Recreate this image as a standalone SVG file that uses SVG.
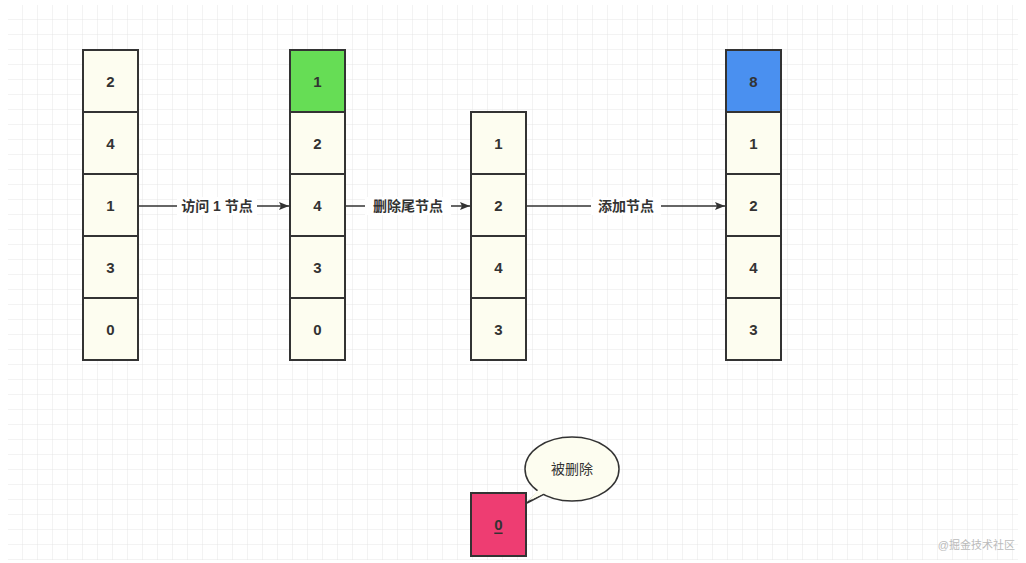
<svg xmlns="http://www.w3.org/2000/svg" width="1026" height="563" viewBox="0 0 1026 563">
<defs>
<pattern id="g" width="15" height="15" patternUnits="userSpaceOnUse" x="8" y="5"><path d="M15 0V15H0" fill="none" stroke="#e6e6e6" stroke-width="1"/></pattern>
<marker id="a" markerWidth="10" markerHeight="8" refX="10" refY="4" orient="auto" markerUnits="userSpaceOnUse"><path d="M0 0L10 4L0 8L2 4Z" fill="#333"/></marker>
<style>
.c{fill:#fdfdf0;stroke:#333;stroke-width:2}
.t{font-family:"Liberation Sans","Noto Sans CJK SC",sans-serif;font-size:15px;font-weight:bold;fill:#333;text-anchor:middle;dominant-baseline:central}
.l{font-family:"Liberation Sans","Noto Sans CJK SC",sans-serif;font-size:14px;font-weight:bold;fill:#333;text-anchor:middle;dominant-baseline:central}
.e{stroke:#333;stroke-width:1.5;fill:none;marker-end:url(#a)}
</style>
</defs>
<rect width="1026" height="563" fill="#fff"/>
<rect x="8" y="5" width="1010" height="555" fill="url(#g)"/>
<g id="col1">
<rect class="c" x="83" y="50" width="55" height="62"/><text class="t" x="110.5" y="81">2</text>
<rect class="c" x="83" y="112" width="55" height="62"/><text class="t" x="110.5" y="143">4</text>
<rect class="c" x="83" y="174" width="55" height="62"/><text class="t" x="110.5" y="205">1</text>
<rect class="c" x="83" y="236" width="55" height="62"/><text class="t" x="110.5" y="267">3</text>
<rect class="c" x="83" y="298" width="55" height="62"/><text class="t" x="110.5" y="329">0</text>
</g>
<g id="col2">
<rect class="c" x="290" y="50" width="55" height="62" style="fill:#66dd55"/><text class="t" x="317.5" y="81">1</text>
<rect class="c" x="290" y="112" width="55" height="62"/><text class="t" x="317.5" y="143">2</text>
<rect class="c" x="290" y="174" width="55" height="62"/><text class="t" x="317.5" y="205">4</text>
<rect class="c" x="290" y="236" width="55" height="62"/><text class="t" x="317.5" y="267">3</text>
<rect class="c" x="290" y="298" width="55" height="62"/><text class="t" x="317.5" y="329">0</text>
</g>
<g id="col3">
<rect class="c" x="471" y="112" width="55" height="62"/><text class="t" x="498.5" y="143">1</text>
<rect class="c" x="471" y="174" width="55" height="62"/><text class="t" x="498.5" y="205">2</text>
<rect class="c" x="471" y="236" width="55" height="62"/><text class="t" x="498.5" y="267">4</text>
<rect class="c" x="471" y="298" width="55" height="62"/><text class="t" x="498.5" y="329">3</text>
</g>
<g id="col4">
<rect class="c" x="726" y="50" width="55" height="62" style="fill:#4a90f0"/><text class="t" x="753.5" y="81">8</text>
<rect class="c" x="726" y="112" width="55" height="62"/><text class="t" x="753.5" y="143">1</text>
<rect class="c" x="726" y="174" width="55" height="62"/><text class="t" x="753.5" y="205">2</text>
<rect class="c" x="726" y="236" width="55" height="62"/><text class="t" x="753.5" y="267">4</text>
<rect class="c" x="726" y="298" width="55" height="62"/><text class="t" x="753.5" y="329">3</text>
</g>
<g id="connectors">
<path class="e" d="M138 206H289"/>
<path class="e" d="M345 206H470"/>
<path class="e" d="M526 206H725"/>
<rect x="177" y="197" width="80" height="18" fill="#fff"/><text class="l" x="217" y="206">访问 1 节点</text>
<rect x="365" y="197" width="86" height="18" fill="#fff"/><text class="l" x="408" y="206">删除尾节点</text>
<rect x="591" y="197" width="70" height="18" fill="#fff"/><text class="l" x="626" y="206">添加节点</text>
</g>
<g id="deleted">
<rect class="c" x="471" y="493" width="55" height="63" style="fill:#ee3d72"/><text class="t" x="498.5" y="524" text-decoration="underline">0</text>
</g>
<g id="bubble">
<path d="M540 490L527 503L546 493" fill="#fdfdf0" stroke="#333" stroke-width="1.5"/>
<ellipse cx="572" cy="469" rx="47" ry="32" fill="#fdfdf0" stroke="#333" stroke-width="1.5"/>
<path d="M539 489L528 501L547 492Z" fill="#fdfdf0"/>
<text class="l" x="572" y="469" style="font-weight:normal">被删除</text>
</g>
<text x="1015" y="549" font-family="Liberation Sans,Noto Sans CJK SC,sans-serif" font-size="11" fill="#bbb" text-anchor="end">@掘金技术社区</text>
</svg>
